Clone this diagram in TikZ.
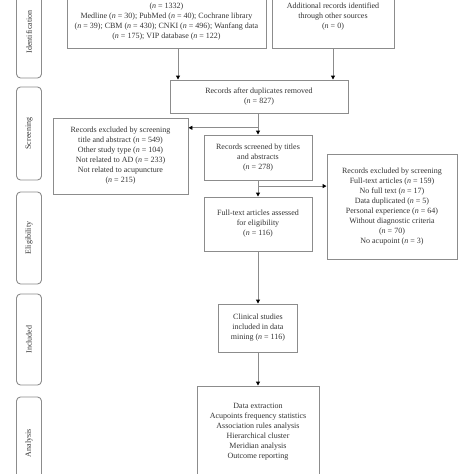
\documentclass[tikz,border=0pt]{standalone}
\usepackage{fontspec}
\setmainfont{Liberation Serif}
\usetikzlibrary{arrows.meta,calc}
\definecolor{lin}{HTML}{8C8C8C}
\definecolor{txt}{HTML}{333333}
\tikzset{
  box/.style={draw=lin, line width=0.9pt, rectangle, inner sep=0pt, align=center,
    text=txt, font=\fontsize{8}{10}\selectfont},
  side/.style={draw=lin, line width=0.9pt, rounded corners=4pt, inner sep=0pt,
    minimum width=25pt, text=txt, font=\fontsize{8}{10}\selectfont},
  conn/.style={draw=lin, line width=0.9pt},
  arr/.style={conn, -{Triangle[length=4pt,width=4pt,black]}},
}
\begin{document}
\begin{tikzpicture}[x=1pt,y=-1pt]
\useasboundingbox (0,0) rectangle (474,474);
\clip (0,0) rectangle (474,474);
% side labels
\node[side, minimum height=92pt] (sid) at (29,32) {\rotatebox{90}{Identification}};
\node[side, minimum height=93pt] (ssc) at (29,133.5) {\rotatebox{90}{Screening}};
\node[side, minimum height=92pt] (sel) at (29,238) {\rotatebox{90}{Eligibility}};
\node[side, minimum height=91pt] (sin) at (29,339.5) {\rotatebox{90}{Included}};
\node[side, minimum height=92pt] (san) at (29,443) {\rotatebox{90}{Analysis}};
% boxes
\node[box, minimum width=199pt, minimum height=62pt] (tl) at (166.5,17)
  {Records identified through database searching\\
   (\textit{n} = 1332)\\
   Medline (\textit{n} = 30); PubMed (\textit{n} = 40); Cochrane library\\
   (\textit{n} = 39); CBM (\textit{n} = 430); CNKI (\textit{n} = 496); Wanfang data\\
   (\textit{n} = 175); VIP database (\textit{n} = 122)};
\node[box, minimum width=122pt, minimum height=62pt] (tr) at (333,17)
  {Additional records identified\\ through other sources\\ (\textit{n} = 0)};
\node[box, minimum width=178pt, minimum height=33pt] (dup) at (259,96.5)
  {Records after duplicates removed\\ (\textit{n} = 827)};
\node[box, minimum width=135pt, minimum height=76pt] (exl) at (120.5,156)
  {Records excluded by screening\\ title and abstract (\textit{n} = 549)\\
   Other study type (\textit{n} = 104)\\ Not related to AD (\textit{n} = 233)\\
   Not related to acupuncture\\ (\textit{n} = 215)};
\node[box, minimum width=108pt, minimum height=45pt] (scr) at (258,157.5)
  {Records screened by titles\\ and abstracts\\ (\textit{n} = 278)};
\node[box, minimum width=130pt, minimum height=105pt] (exr) at (392,206.5)
  {Records excluded by screening\\ Full-text articles (\textit{n} = 159)\\
   No full text (\textit{n} = 17)\\ Data duplicated (\textit{n} = 5)\\
   Personal experience (\textit{n} = 64)\\ Without diagnostic criteria\\
   (\textit{n} = 70)\\ No acupoint (\textit{n} = 3)};
\node[box, minimum width=108pt, minimum height=54pt] (ft) at (258,224)
  {Full-text articles assessed\\ for eligibility\\ (\textit{n} = 116)};
\node[box, minimum width=79pt, minimum height=48pt] (cl) at (258,328)
  {Clinical studies\\ included in data\\ mining (\textit{n} = 116)};
\node[box, minimum width=122pt, minimum height=92pt] (an) at (258,432)
  {Data extraction\\ Acupoints frequency statistics\\ Association rules analysis\\
   Hierarchical cluster\\ Meridian analysis\\ Outcome reporting};
% connectors
\draw[arr] ([xshift=11.5pt]tl.south) -- ([xshift=11.5pt]tl.south |- dup.north);
\draw[arr] (tr.south) -- (tr.south |- dup.north);
\draw[arr] (dup.south -| scr.north) -- (scr.north);
\coordinate (b1) at ($(dup.south -| scr.north)!0.68!(scr.north)$);
\draw[arr] (b1) -- (b1 -| exl.east);
\draw[arr] (scr.south) -- (ft.north);
\coordinate (b2) at ($(scr.south)!0.35!(ft.north)$);
\draw[arr] (b2) -- (b2 -| exr.west);
\draw[arr] (ft.south) -- (cl.north);
\draw[arr] (cl.south) -- (an.north);
\end{tikzpicture}
\end{document}
